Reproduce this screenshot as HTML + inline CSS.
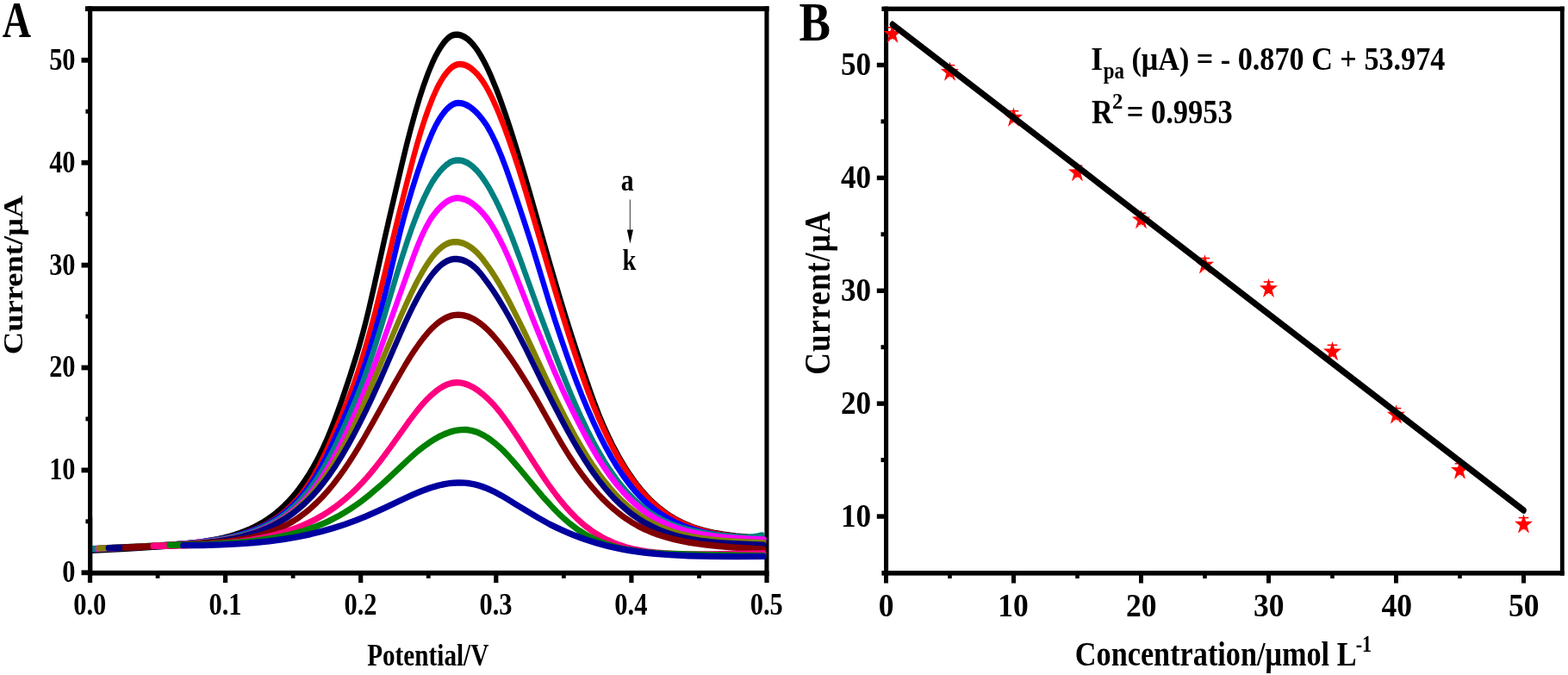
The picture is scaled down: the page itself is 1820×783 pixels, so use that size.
<!DOCTYPE html>
<html><head><meta charset="utf-8"><title>DPV figure</title>
<style>
html,body{margin:0;padding:0;background:#fff;}
body{width:1820px;height:783px;overflow:hidden;}
svg{display:block;filter:blur(0.45px);}
text{font-family:"Liberation Serif","Times New Roman",serif;font-weight:bold;fill:#000;}
</style></head><body>
<svg width="1820" height="783" viewBox="0 0 1820 783">
<rect x="0" y="0" width="1820" height="783" fill="#fff"/>
<rect x="98.90" y="7.20" width="793.60" height="5.90" fill="#000"/>
<rect x="102.00" y="7.20" width="5.20" height="660.40" fill="#000"/>
<rect x="887.40" y="7.20" width="5.10" height="660.40" fill="#000"/>
<rect x="102.00" y="661.80" width="790.50" height="5.80" fill="#000"/>
<rect x="94.50" y="661.40" width="8.00" height="5.80" fill="#000"/>
<rect x="99.40" y="602.35" width="3.10" height="5.00" fill="#000"/>
<rect x="94.50" y="542.50" width="8.00" height="5.80" fill="#000"/>
<rect x="99.40" y="483.45" width="3.10" height="5.00" fill="#000"/>
<rect x="94.50" y="423.60" width="8.00" height="5.80" fill="#000"/>
<rect x="99.40" y="364.55" width="3.10" height="5.00" fill="#000"/>
<rect x="94.50" y="304.70" width="8.00" height="5.80" fill="#000"/>
<rect x="99.40" y="245.65" width="3.10" height="5.00" fill="#000"/>
<rect x="94.50" y="185.80" width="8.00" height="5.80" fill="#000"/>
<rect x="99.40" y="126.75" width="3.10" height="5.00" fill="#000"/>
<rect x="94.50" y="66.90" width="8.00" height="5.80" fill="#000"/>
<rect x="101.90" y="667.00" width="5.20" height="9.00" fill="#000"/>
<rect x="180.65" y="667.00" width="4.80" height="3.80" fill="#000"/>
<rect x="259.00" y="667.00" width="5.20" height="9.00" fill="#000"/>
<rect x="337.75" y="667.00" width="4.80" height="3.80" fill="#000"/>
<rect x="416.10" y="667.00" width="5.20" height="9.00" fill="#000"/>
<rect x="494.85" y="667.00" width="4.80" height="3.80" fill="#000"/>
<rect x="573.20" y="667.00" width="5.20" height="9.00" fill="#000"/>
<rect x="651.95" y="667.00" width="4.80" height="3.80" fill="#000"/>
<rect x="730.30" y="667.00" width="5.20" height="9.00" fill="#000"/>
<rect x="809.05" y="667.00" width="4.80" height="3.80" fill="#000"/>
<rect x="887.40" y="667.00" width="5.20" height="9.00" fill="#000"/>
<text transform="translate(72.32 675.29) scale(0.8370 1)" font-size="36.30">0</text>
<text transform="translate(57.13 556.39) scale(0.8370 1)" font-size="36.30">10</text>
<text transform="translate(57.13 437.49) scale(0.8370 1)" font-size="36.30">20</text>
<text transform="translate(57.13 318.59) scale(0.8370 1)" font-size="36.30">30</text>
<text transform="translate(57.13 199.69) scale(0.8370 1)" font-size="36.30">40</text>
<text transform="translate(57.13 80.79) scale(0.8370 1)" font-size="36.30">50</text>
<text transform="translate(85.24 713.16) scale(0.8400 1)" font-size="36.30">0.0</text>
<text transform="translate(242.49 713.16) scale(0.8400 1)" font-size="36.30">0.1</text>
<text transform="translate(399.44 713.16) scale(0.8400 1)" font-size="36.30">0.2</text>
<text transform="translate(556.47 713.16) scale(0.8400 1)" font-size="36.30">0.3</text>
<text transform="translate(713.34 713.16) scale(0.8400 1)" font-size="36.30">0.4</text>
<text transform="translate(870.67 713.16) scale(0.8400 1)" font-size="36.30">0.5</text>
<text transform="translate(2.64 42.60) scale(0.7762 1)" font-size="59.39">A</text>
<text transform="translate(426.16 772.10) scale(0.8005 1)" font-size="36.50">Potential/V</text>
<text transform="translate(25.97 411.13) rotate(-90) scale(1.1673 1)" font-size="31.31">Current/μA</text>
<text transform="translate(720.71 220.94) scale(0.8288 1)" font-size="35.80">a</text>
<text transform="translate(722.39 313.10) scale(0.8211 1)" font-size="34.70">k</text>
<line x1="731.4" y1="231.5" x2="731.4" y2="268" stroke="#6a6a6a" stroke-width="1.5"/>
<polygon points="727.8,266.6 734.9,266.6 731.4,282.4" fill="#000"/>
<rect x="1023.40" y="7.60" width="792.30" height="5.40" fill="#000"/>
<rect x="1026.00" y="7.60" width="5.10" height="660.00" fill="#000"/>
<rect x="1810.90" y="7.60" width="4.80" height="660.00" fill="#000"/>
<rect x="1023.40" y="662.00" width="792.30" height="5.60" fill="#000"/>
<rect x="1017.80" y="596.35" width="8.70" height="5.40" fill="#000"/>
<rect x="1022.50" y="531.10" width="4.00" height="5.00" fill="#000"/>
<rect x="1017.80" y="465.45" width="8.70" height="5.40" fill="#000"/>
<rect x="1022.50" y="400.20" width="4.00" height="5.00" fill="#000"/>
<rect x="1017.80" y="334.55" width="8.70" height="5.40" fill="#000"/>
<rect x="1022.50" y="269.30" width="4.00" height="5.00" fill="#000"/>
<rect x="1017.80" y="203.65" width="8.70" height="5.40" fill="#000"/>
<rect x="1022.50" y="138.40" width="4.00" height="5.00" fill="#000"/>
<rect x="1017.80" y="72.75" width="8.70" height="5.40" fill="#000"/>
<rect x="1026.00" y="667.00" width="5.00" height="9.50" fill="#000"/>
<rect x="1100.20" y="667.00" width="4.60" height="4.00" fill="#000"/>
<rect x="1174.00" y="667.00" width="5.00" height="9.50" fill="#000"/>
<rect x="1248.20" y="667.00" width="4.60" height="4.00" fill="#000"/>
<rect x="1322.00" y="667.00" width="5.00" height="9.50" fill="#000"/>
<rect x="1396.20" y="667.00" width="4.60" height="4.00" fill="#000"/>
<rect x="1470.00" y="667.00" width="5.00" height="9.50" fill="#000"/>
<rect x="1544.20" y="667.00" width="4.60" height="4.00" fill="#000"/>
<rect x="1618.00" y="667.00" width="5.00" height="9.50" fill="#000"/>
<rect x="1692.20" y="667.00" width="4.60" height="4.00" fill="#000"/>
<rect x="1766.00" y="667.00" width="5.00" height="9.50" fill="#000"/>
<text transform="translate(975.89 610.66) scale(0.9050 1)" font-size="38.80">10</text>
<text transform="translate(975.89 479.76) scale(0.9050 1)" font-size="38.80">20</text>
<text transform="translate(975.89 348.86) scale(0.9050 1)" font-size="38.80">30</text>
<text transform="translate(975.89 217.96) scale(0.9050 1)" font-size="38.80">40</text>
<text transform="translate(975.89 87.06) scale(0.9050 1)" font-size="38.80">50</text>
<text transform="translate(1019.82 715.41) scale(0.9150 1)" font-size="38.80">0</text>
<text transform="translate(1158.24 715.41) scale(0.9150 1)" font-size="38.80">10</text>
<text transform="translate(1306.95 715.41) scale(0.9150 1)" font-size="38.80">20</text>
<text transform="translate(1455.04 715.41) scale(0.9150 1)" font-size="38.80">30</text>
<text transform="translate(1603.39 715.41) scale(0.9150 1)" font-size="38.80">40</text>
<text transform="translate(1750.95 715.41) scale(0.9150 1)" font-size="38.80">50</text>
<text transform="translate(927.58 46.99) scale(0.8745 1)" font-size="62.58">B</text>
<text transform="translate(1247.79 771.60) scale(0.8718 1)" font-size="39.30">Concentration/μmol L</text>
<text transform="translate(1573.63 756.10) scale(0.7990 1)" font-size="27.70">-1</text>
<text transform="translate(962.89 434.67) rotate(-90) scale(0.8550 1)" font-size="41.50" letter-spacing="1.318">Current/μA</text>
<text transform="translate(1266.25 81.30) scale(0.9158 1)" font-size="38.90">I</text>
<text transform="translate(1280.67 90.75) scale(0.8424 1)" font-size="27.20">pa</text>
<text transform="translate(1313.46 81.40) scale(0.8784 1)" font-size="38.90">(μA) = - 0.870 C + 53.974</text>
<text transform="translate(1266.89 142.60) scale(0.8683 1)" font-size="39.30">R</text>
<text transform="translate(1291.11 126.30) scale(0.9451 1)" font-size="26.20">2</text>
<text transform="translate(1307.78 142.50) scale(0.8769 1)" font-size="39.30">= 0.9953</text>
<g transform="scale(0.8500 1)" fill="none" stroke-width="7.4" stroke-linecap="round" stroke-linejoin="round">
<polyline points="124.71,638.36 171.85,636.29 204.29,634.65 230.92,633.00 252.96,631.24 272.86,629.15 281.74,628.01 290.27,626.75 298.50,625.35 306.11,623.87 313.42,622.27 320.41,620.53 327.40,618.56 334.39,616.34 341.07,613.95 347.45,611.39 353.52,608.67 359.96,605.49 365.80,602.29 371.65,598.76 377.19,595.08 382.43,591.28 387.68,587.14 392.94,582.63 397.89,578.03 402.85,573.06 407.82,567.69 412.48,562.28 417.45,556.09 422.12,549.86 426.77,543.21 431.11,536.60 435.42,529.59 439.71,522.16 443.97,514.31 447.90,506.62 452.11,497.90 456.32,488.73 465.73,466.76 476.42,439.99 486.09,414.10 490.87,400.38 495.22,387.14 499.12,374.48 503.17,360.49 509.89,335.70 524.57,279.44 531.07,255.06 548.58,191.44 555.16,168.34 561.26,148.22 567.14,130.11 572.78,114.04 578.47,99.18 584.54,85.00 590.31,73.13 594.79,65.04 598.09,59.91 601.32,55.33 604.18,51.71 607.01,48.56 609.81,45.91 612.29,43.96 615.06,42.23 617.52,41.13 620.28,40.36 622.73,40.11 626.10,40.30 629.46,40.98 632.81,42.16 636.16,43.83 639.50,45.98 642.82,48.61 646.14,51.71 649.43,55.28 652.41,58.92 655.66,63.35 659.56,69.15 663.49,75.54 667.11,81.93 670.73,88.80 677.99,103.83 684.36,118.30 691.07,134.65 698.13,152.88 705.86,173.80 714.31,197.44 722.79,221.87 750.67,305.44 764.76,346.33 772.03,366.54 779.62,386.97 788.37,409.84 797.20,432.29 805.45,452.65 812.09,468.37 817.93,481.28 823.90,493.47 830.60,506.05 837.67,518.27 844.79,529.57 852.23,540.39 860.61,551.43 864.96,556.70 869.30,561.67 873.64,566.35 878.29,571.05 882.63,575.16 887.27,579.28 891.91,583.12 896.54,586.69 901.48,590.21 906.42,593.46 911.35,596.45 916.58,599.36 921.82,602.01 927.05,604.42 932.27,606.61 938.08,608.82 943.54,610.69 949.31,612.46 955.38,614.12 961.45,615.58 967.83,616.92 974.53,618.15 988.53,620.21 1004.38,621.90 1022.09,623.20 1042.86,624.22" stroke="#000000"/>
<polyline points="124.71,637.08 177.36,634.88 209.50,633.38 235.51,631.93 257.25,630.40 277.14,628.58 294.69,626.47 310.15,624.05 317.58,622.64 324.41,621.18 331.56,619.45 338.41,617.58 344.96,615.57 351.53,613.31 357.79,610.91 364.05,608.22 368.94,605.85 374.12,603.10 379.59,599.90 384.74,596.59 389.89,592.96 394.71,589.24 399.52,585.21 404.30,580.84 408.75,576.42 413.18,571.66 417.28,566.90 421.35,561.82 425.38,556.40 429.09,551.05 432.79,545.38 436.75,538.92 444.73,524.80 450.28,514.27 456.66,501.72 466.74,481.37 473.29,467.81 481.20,450.30 488.44,432.45 494.16,417.06 500.38,399.19 506.50,380.56 512.83,360.28 523.18,325.13 537.67,273.22 544.52,249.26 555.69,211.57 564.28,183.48 569.64,167.00 574.77,152.27 579.97,138.48 584.91,126.48 590.81,113.60 596.44,102.89 598.64,99.15 601.27,95.17 604.19,91.08 606.76,87.81 609.63,84.54 612.15,82.01 614.97,79.59 617.46,77.82 620.25,76.28 622.72,75.29 625.18,74.68 627.63,74.45 630.70,74.60 634.08,75.22 637.48,76.33 640.88,77.91 644.30,79.97 647.72,82.49 651.15,85.48 654.57,88.92 657.99,92.80 661.39,97.12 664.14,100.97 667.44,106.04 670.73,111.52 674.32,117.93 677.92,124.78 681.82,132.67 688.16,146.39 694.87,161.92 701.62,178.50 708.34,195.96 718.31,223.48 755.83,330.97 768.70,367.11 776.05,387.03 783.08,405.48 790.38,423.98 797.31,440.91 804.23,457.01 810.92,471.59 817.68,485.35 824.51,498.28 831.67,510.91 838.84,522.63 846.31,533.90 853.77,544.24 862.14,554.77 866.48,559.80 870.80,564.55 875.12,569.02 879.75,573.51 884.06,577.44 888.68,581.38 893.30,585.05 897.92,588.47 902.53,591.64 907.44,594.77 912.36,597.65 917.58,600.46 922.80,603.03 928.02,605.37 933.23,607.51 939.00,609.66 944.45,611.49 950.21,613.23 955.97,614.79 962.04,616.25 968.42,617.60 975.11,618.84 989.11,620.95 1004.65,622.69 1022.35,624.12 1042.82,625.27" stroke="#FF0000"/>
<polyline points="124.71,637.11 173.38,635.14 205.82,633.66 232.45,632.20 254.49,630.68 274.70,628.87 292.51,626.79 308.22,624.41 315.63,623.07 322.73,621.62 329.84,619.98 336.96,618.13 343.46,616.23 349.97,614.12 356.17,611.87 362.37,609.37 367.60,607.04 373.38,604.17 378.84,601.18 384.00,598.09 389.14,594.72 394.27,591.05 399.08,587.30 403.87,583.25 408.64,578.87 413.08,574.45 417.50,569.71 421.60,564.98 425.67,559.94 429.70,554.58 433.72,548.89 437.72,542.85 445.75,529.67 451.29,519.86 457.30,508.75 476.14,472.50 484.60,455.20 488.39,446.87 492.07,438.30 498.25,422.94 504.89,405.19 511.37,386.71 517.99,366.67 524.15,347.01 530.14,326.97 543.12,280.67 547.00,267.29 551.65,252.20 556.80,236.53 563.37,217.85 570.67,198.52 578.19,179.95 584.67,165.30 590.19,154.10 595.41,144.81 600.28,137.71 602.87,134.37 605.44,131.36 608.31,128.35 610.85,126.04 613.38,124.07 615.89,122.44 618.39,121.16 620.87,120.23 623.34,119.66 625.79,119.44 628.87,119.59 632.28,120.18 635.73,121.23 639.22,122.73 642.43,124.48 645.98,126.82 649.58,129.60 653.21,132.80 656.20,135.74 659.54,139.32 663.57,144.05 665.11,146.16 668.43,151.07 672.02,156.85 675.28,162.52 678.81,169.09 684.61,180.88 690.62,194.29 697.51,210.76 706.96,234.29 717.32,260.80 726.18,284.22 733.35,303.92 748.87,347.51 758.21,372.51 765.62,391.38 773.36,410.44 780.47,427.34 786.99,442.18 794.78,459.03 802.92,475.57 811.03,491.06 819.11,505.47 826.86,518.30 834.61,530.13 842.35,540.99 850.40,551.27 858.76,560.90 863.10,565.50 867.43,569.83 871.76,573.91 876.40,578.01 880.72,581.60 885.35,585.19 889.98,588.54 894.61,591.65 899.54,594.73 904.47,597.58 909.40,600.19 914.63,602.75 919.86,605.08 925.39,607.32 930.86,609.36 936.31,611.19 942.06,612.94 947.82,614.50 959.95,617.28 973.31,619.65 987.61,621.57 1003.76,623.17 1021.76,624.45 1042.83,625.49" stroke="#0000FF"/>
<polyline points="124.71,636.78 208.69,633.27 234.04,631.97 255.11,630.63 274.35,629.08 291.48,627.29 306.52,625.26 320.35,622.88 327.12,621.49 333.89,619.92 340.36,618.24 346.53,616.44 352.39,614.55 358.25,612.44 363.81,610.24 369.36,607.82 374.83,605.15 380.00,602.39 385.16,599.37 390.01,596.28 394.85,592.94 399.69,589.31 404.22,585.65 408.75,581.72 413.56,577.21 418.07,572.67 422.86,567.48 427.35,562.27 431.82,556.73 436.29,550.83 440.77,544.56 445.24,537.93 449.73,530.91 454.25,523.50 463.70,506.94 474.70,486.22 485.44,464.77 491.94,450.92 497.97,437.22 504.16,422.28 510.51,406.08 520.48,379.03 543.60,313.25 550.57,294.36 556.73,278.41 562.39,264.61 568.14,251.54 573.65,239.96 579.21,229.26 584.82,219.54 590.46,210.91 596.51,203.44 599.48,200.17 602.41,197.22 605.31,194.59 608.17,192.30 611.02,190.35 613.84,188.74 616.64,187.48 619.42,186.57 622.19,186.02 624.64,185.83 627.69,185.94 630.74,186.38 633.79,187.17 637.14,188.41 640.18,189.89 643.52,191.89 646.55,194.05 649.87,196.79 653.19,199.90 656.50,203.38 659.80,207.22 663.10,211.40 666.44,215.92 669.77,220.76 676.75,231.86 682.19,241.41 687.62,251.64 693.33,263.09 699.31,275.79 710.02,299.99 735.88,360.88 756.78,408.14 765.47,427.40 772.57,442.67 779.39,456.76 785.92,469.67 794.01,484.87 802.07,499.15 809.77,511.98 817.45,523.91 825.10,534.94 833.03,545.47 840.65,554.70 848.57,563.41 857.09,571.82 865.60,579.28 870.17,582.91 874.73,586.30 879.29,589.46 883.86,592.39 888.43,595.12 893.30,597.81 898.17,600.28 903.35,602.70 908.53,604.90 913.71,606.91 919.19,608.83 924.97,610.66 931.36,612.47 938.06,614.13 945.07,615.65 952.09,616.97 959.71,618.21 967.64,619.31 976.19,620.31 985.04,621.18 1004.27,622.60 1014.65,623.17 1019.53,623.27 1024.73,623.11 1029.92,622.69 1035.11,622.01 1040.60,621.01" stroke="#008080"/>
<polyline points="133.17,636.38 214.75,633.10 239.32,631.89 259.64,630.66 278.14,629.24 294.50,627.61 309.27,625.72 322.51,623.55 329.12,622.26 335.72,620.80 341.71,619.32 347.69,617.66 353.36,615.90 359.02,613.96 364.36,611.93 369.40,609.82 375.36,607.08 380.20,604.67 385.34,601.89 390.18,599.04 395.02,595.95 399.86,592.61 404.40,589.24 408.94,585.61 413.48,581.73 418.02,577.57 422.56,573.12 426.80,568.70 431.34,563.67 435.58,558.68 439.82,553.41 444.07,547.85 452.25,536.27 460.76,523.06 469.33,508.62 478.31,492.37 485.23,479.21 491.89,466.01 498.21,452.91 504.47,439.35 511.59,423.26 519.60,404.60 555.87,318.15 565.07,296.62 569.47,286.90 573.64,278.30 577.60,270.77 581.64,263.77 587.23,255.17 590.85,250.70 593.85,247.34 597.16,243.93 600.13,241.16 603.08,238.67 606.00,236.48 608.58,234.79 611.45,233.17 613.98,232.00 616.80,230.97 619.28,230.32 621.74,229.92 624.18,229.78 627.22,229.90 630.58,230.36 633.66,231.08 637.07,232.21 640.19,233.53 643.64,235.31 647.11,237.43 650.60,239.87 654.10,242.63 657.94,246.01 661.79,249.75 665.64,253.84 668.09,256.76 671.37,261.01 677.28,269.42 681.96,276.74 686.58,284.53 691.13,292.77 695.91,301.97 704.77,320.31 728.91,372.66 750.77,418.10 758.24,433.08 765.18,446.49 771.93,458.94 779.39,472.13 789.94,490.11 799.32,505.39 807.97,518.68 816.25,530.58 824.82,541.94 833.36,552.33 841.88,561.75 850.39,570.25 858.88,577.85 867.37,584.61 876.15,590.79 884.93,596.19 894.01,601.04 898.85,603.34 903.69,605.46 914.23,609.51 924.40,612.77 934.89,615.53 946.32,617.95 958.67,620.01 971.95,621.72 986.46,623.12 1002.49,624.27 1020.96,625.22 1042.77,626.03" stroke="#FF00FF"/>
<polyline points="135.02,636.13 212.80,633.32 236.71,632.25 256.69,631.14 275.15,629.84 291.49,628.35 305.65,626.68 318.85,624.70 331.72,622.26 343.66,619.42 349.31,617.83 354.95,616.08 360.28,614.25 365.30,612.36 370.90,610.03 376.52,607.46 381.36,605.10 386.20,602.54 391.04,599.78 395.59,596.98 400.14,593.98 404.69,590.77 413.20,584.15 421.74,576.68 429.99,568.60 438.28,559.62 446.27,550.09 454.27,539.66 462.25,528.32 470.20,516.09 476.29,506.09 482.36,495.60 488.70,484.08 495.02,472.09 507.06,448.18 538.12,384.88 546.47,368.35 553.57,354.78 560.31,342.41 566.41,331.81 572.19,322.43 577.94,313.79 583.38,306.39 586.65,302.27 589.61,298.80 594.96,293.26 597.64,290.84 600.33,288.67 603.02,286.75 605.72,285.08 608.42,283.67 610.83,282.63 613.54,281.72 616.26,281.07 618.98,280.69 621.40,280.58 624.42,280.69 627.73,281.11 631.02,281.82 634.30,282.84 637.27,284.01 640.52,285.59 643.74,287.45 646.94,289.59 649.83,291.79 652.69,294.20 655.53,296.84 658.63,299.99 667.23,309.82 673.82,318.12 680.44,327.24 687.41,337.57 694.75,349.09 703.08,362.81 711.17,376.63 719.26,390.86 747.22,441.83 759.56,463.69 767.00,476.39 774.12,488.17 780.91,499.03 787.70,509.46 795.42,520.73 802.82,530.95 810.54,540.93 817.95,549.88 825.34,558.19 833.04,566.18 840.72,573.50 848.38,580.17 856.65,586.67 865.20,592.68 874.03,598.18 882.86,602.99 891.97,607.30 897.61,609.71 902.61,611.68 912.65,615.12 923.02,618.05 933.73,620.51 945.07,622.60 957.34,624.38 970.54,625.86 984.97,627.09 1000.94,628.11 1019.70,628.99 1042.71,629.80" stroke="#808000"/>
<polyline points="147.97,635.61 183.18,634.73 211.22,633.84 234.79,632.87 255.38,631.73 273.87,630.39 290.58,628.80 305.44,626.97 319.33,624.79 332.60,622.19 344.94,619.18 356.36,615.78 361.91,613.87 367.15,611.91 372.67,609.64 378.82,606.90 388.65,602.01 393.72,599.20 398.49,596.35 403.26,593.30 408.03,590.03 416.68,583.53 425.34,576.22 433.71,568.34 442.09,559.61 450.49,549.98 458.62,539.83 466.76,528.80 475.24,516.44 482.84,504.65 490.80,491.65 499.45,476.90 507.80,462.03 520.30,438.54 547.14,386.04 553.39,374.28 559.35,363.49 564.72,354.22 570.09,345.45 575.16,337.69 580.23,330.52 586.17,322.90 591.48,316.90 596.79,311.75 601.82,307.72 604.49,305.94 606.86,304.56 609.54,303.24 611.91,302.27 614.59,301.43 616.97,300.90 619.65,300.54 622.04,300.44 625.01,300.56 628.25,300.97 631.47,301.65 634.65,302.62 637.51,303.75 640.64,305.25 643.72,307.02 646.78,309.06 649.52,311.14 652.24,313.44 657.59,318.64 667.81,330.31 673.50,337.24 680.15,345.98 687.49,356.29 695.23,367.76 703.34,380.36 716.07,401.22 741.80,445.57 755.52,468.44 765.77,485.00 774.62,498.95 782.17,510.45 789.38,520.98 796.87,531.39 804.05,540.80 811.23,549.63 818.41,557.88 825.59,565.54 833.06,572.90 840.23,579.39 847.70,585.57 856.06,591.81 864.71,597.56 873.37,602.64 882.31,607.23 891.73,611.46 901.44,615.17 911.76,618.48 922.40,621.29 933.36,623.65 944.93,625.65 957.40,627.34 970.80,628.73 985.42,629.87 1001.83,630.81 1020.63,631.56 1042.71,632.18" stroke="#000080"/>
<polyline points="170.18,635.20 243.20,632.30 278.41,630.55 294.12,629.49 307.79,628.33 319.99,627.03 331.30,625.53 342.90,623.60 353.62,621.39 363.75,618.84 373.29,615.96 382.54,612.63 391.21,608.99 400.23,604.62 408.69,599.92 416.56,594.98 424.44,589.44 432.32,583.27 439.92,576.72 447.51,569.55 455.10,561.76 462.69,553.35 470.28,544.33 476.71,536.24 483.12,527.76 489.83,518.52 496.83,508.50 509.98,488.90 539.85,443.16 553.26,423.52 559.96,414.29 566.07,406.33 571.88,399.22 577.69,392.65 584.34,385.83 590.40,380.36 596.47,375.66 602.27,371.95 605.16,370.39 608.06,369.03 610.97,367.87 613.87,366.92 616.78,366.18 619.68,365.65 622.59,365.33 625.50,365.22 628.70,365.34 631.90,365.67 635.09,366.24 638.58,367.10 641.77,368.13 645.26,369.49 648.45,370.97 651.94,372.82 655.43,374.91 658.93,377.24 662.43,379.81 665.94,382.59 673.61,389.37 681.02,396.75 688.76,405.24 696.84,414.81 705.55,425.81 714.87,438.20 723.83,450.64 733.22,464.18 758.65,502.50 767.45,515.37 777.81,529.57 783.20,536.53 788.36,542.89 795.57,551.32 802.52,558.96 809.79,566.44 817.07,573.40 824.07,579.61 831.37,585.59 838.66,591.07 846.25,596.27 854.42,601.32 862.88,605.98 871.10,609.97 879.96,613.73 889.08,617.11 898.78,620.20 909.04,622.99 919.57,625.39 930.10,627.39 941.75,629.24 953.97,630.82 967.35,632.24 981.90,633.50 998.48,634.69 1042.71,637.18" stroke="#800000"/>
<polyline points="209.04,633.25 229.89,633.18 249.35,632.90 267.42,632.39 284.10,631.67 299.94,630.71 314.67,629.53 328.57,628.12 342.24,626.39 355.09,624.42 367.39,622.16 379.16,619.61 390.38,616.77 401.34,613.58 412.05,610.00 421.32,606.48 431.07,602.29 439.70,598.15 448.04,593.71 456.10,589.01 464.15,583.86 471.90,578.45 479.64,572.60 487.35,566.28 494.75,559.74 500.76,554.10 507.02,547.89 513.53,541.11 520.02,534.03 531.89,520.39 557.16,490.31 568.17,477.87 577.05,468.67 581.69,464.44 586.04,460.73 591.24,456.67 596.41,453.09 601.27,450.19 605.82,447.91 610.63,446.02 615.13,444.76 619.61,444.00 624.07,443.77 626.85,443.88 629.64,444.17 632.43,444.63 635.51,445.34 638.32,446.17 641.42,447.27 647.36,449.95 653.36,453.33 659.71,457.59 666.44,462.78 673.26,468.65 678.36,473.66 683.72,479.32 689.32,485.61 695.17,492.55 707.04,507.48 732.04,540.55 743.39,555.11 749.61,562.73 755.30,569.43 761.00,575.85 766.71,581.96 773.53,588.81 780.37,595.17 787.23,601.05 794.10,606.43 800.49,610.94 807.51,615.39 814.53,619.38 821.85,623.07 829.73,626.54 838.11,629.73 846.45,632.43 855.07,634.76 864.24,636.78 873.69,638.44 883.98,639.84 894.82,640.93 905.94,641.73 918.17,642.33 931.79,642.72 947.08,642.92 964.59,642.95 985.72,642.80 1042.71,641.94" stroke="#FF0080"/>
<polyline points="231.25,632.39 268.05,631.83 284.55,631.36 299.70,630.76 314.04,630.01 327.30,629.13 339.75,628.11 351.98,626.88 363.41,625.52 374.58,623.94 385.22,622.18 395.31,620.25 405.15,618.10 414.72,615.73 424.01,613.12 433.04,610.29 440.14,607.83 448.21,604.73 456.01,601.45 463.52,598.01 471.03,594.29 478.52,590.28 485.73,586.14 493.19,581.57 499.57,577.43 505.94,573.10 519.42,563.31 531.78,553.74 558.22,532.59 570.02,523.63 579.21,517.56 588.21,512.23 594.70,508.83 600.91,505.96 606.82,503.62 612.69,501.68 618.53,500.18 624.05,499.18 629.52,498.61 634.95,498.48 639.83,498.79 644.74,499.57 649.67,500.79 654.90,502.57 660.15,504.81 665.41,507.51 670.97,510.80 676.54,514.52 681.84,518.42 687.13,522.63 696.02,530.56 707.52,541.77 732.07,566.92 743.25,578.02 754.96,588.91 760.55,593.77 766.14,598.38 772.54,603.32 778.94,607.91 785.14,611.96 791.65,615.83 798.18,619.34 804.73,622.51 811.56,625.45 818.67,628.16 825.97,630.60 833.28,632.71 841.13,634.64 849.24,636.31 857.90,637.78 866.83,639.01 876.57,640.07 887.12,640.96 897.41,641.63 909.04,642.20 936.64,643.07 973.71,643.73 1042.71,644.59" stroke="#008000"/>
<polyline points="249.75,632.66 276.46,632.46 301.58,631.87 324.85,630.89 346.79,629.51 367.41,627.72 386.98,625.50 405.49,622.87 423.47,619.74 439.33,616.45 454.93,612.69 470.27,608.46 485.60,603.69 498.82,599.16 512.84,593.99 525.79,588.93 552.76,578.13 564.66,573.56 576.03,569.53 586.08,566.38 591.89,564.79 597.71,563.39 603.26,562.25 608.55,561.36 613.84,560.68 619.13,560.21 624.42,559.95 629.70,559.92 634.18,560.09 638.89,560.49 643.33,561.07 648.00,561.88 652.64,562.90 657.26,564.11 662.12,565.59 666.95,567.27 675.54,570.68 684.57,574.80 692.06,578.53 704.25,584.99 734.67,600.53 750.32,607.97 759.34,611.72 768.32,615.25 776.99,618.44 785.60,621.40 794.18,624.12 802.98,626.70 813.73,629.60 822.19,631.66 830.92,633.58 840.17,635.38 849.69,637.01 859.47,638.48 869.52,639.78 880.10,640.95 891.20,641.98 902.57,642.86 914.73,643.62 940.91,644.75 970.52,645.42 1004.10,645.63 1042.71,645.38" stroke="#0000A0"/>
</g>
<rect x="102.00" y="600.00" width="5.20" height="67.60" fill="#000"/>
<line x1="1030.10" y1="31.85" x2="1041.70" y2="31.85" stroke="#FF0000" stroke-width="1.6"/>
<polygon points="1035.90,27.55 1033.36,35.97 1025.37,36.05 1031.79,41.34 1029.39,49.80 1035.90,44.65 1042.41,49.80 1040.01,41.34 1046.43,36.05 1038.44,35.97" fill="#FF0000"/>
<line x1="1032.70" y1="46.45" x2="1039.10" y2="46.45" stroke="#FFD8D8" stroke-width="1.3"/>
<line x1="1096.70" y1="75.70" x2="1108.30" y2="75.70" stroke="#FF0000" stroke-width="1.6"/>
<polygon points="1102.50,71.40 1099.96,79.82 1091.97,79.90 1098.39,85.19 1095.99,93.65 1102.50,88.50 1109.01,93.65 1106.61,85.19 1113.03,79.90 1105.04,79.82" fill="#FF0000"/>
<line x1="1099.30" y1="90.30" x2="1105.70" y2="90.30" stroke="#FFD8D8" stroke-width="1.3"/>
<line x1="1170.70" y1="128.72" x2="1182.30" y2="128.72" stroke="#FF0000" stroke-width="1.6"/>
<polygon points="1176.50,124.42 1173.96,132.84 1165.97,132.92 1172.39,138.20 1169.99,146.67 1176.50,141.52 1183.01,146.67 1180.61,138.20 1187.03,132.92 1179.04,132.84" fill="#FF0000"/>
<line x1="1173.30" y1="143.32" x2="1179.70" y2="143.32" stroke="#FFD8D8" stroke-width="1.3"/>
<line x1="1244.70" y1="192.21" x2="1256.30" y2="192.21" stroke="#FF0000" stroke-width="1.6"/>
<polygon points="1250.50,187.91 1247.96,196.32 1239.97,196.40 1246.39,201.69 1243.99,210.16 1250.50,205.01 1257.01,210.16 1254.61,201.69 1261.03,196.40 1253.04,196.32" fill="#FF0000"/>
<line x1="1247.30" y1="206.81" x2="1253.70" y2="206.81" stroke="#FFD8D8" stroke-width="1.3"/>
<line x1="1318.70" y1="247.18" x2="1330.30" y2="247.18" stroke="#FF0000" stroke-width="1.6"/>
<polygon points="1324.50,242.88 1321.96,251.30 1313.97,251.38 1320.39,256.67 1317.99,265.13 1324.50,259.98 1331.01,265.13 1328.61,256.67 1335.03,251.38 1327.04,251.30" fill="#FF0000"/>
<line x1="1321.30" y1="261.78" x2="1327.70" y2="261.78" stroke="#FFD8D8" stroke-width="1.3"/>
<line x1="1392.70" y1="299.54" x2="1404.30" y2="299.54" stroke="#FF0000" stroke-width="1.6"/>
<polygon points="1398.50,295.24 1395.96,303.66 1387.97,303.74 1394.39,309.03 1391.99,317.49 1398.50,312.34 1405.01,317.49 1402.61,309.03 1409.03,303.74 1401.04,303.66" fill="#FF0000"/>
<line x1="1395.30" y1="314.14" x2="1401.70" y2="314.14" stroke="#FFD8D8" stroke-width="1.3"/>
<line x1="1466.70" y1="327.03" x2="1478.30" y2="327.03" stroke="#FF0000" stroke-width="1.6"/>
<polygon points="1472.50,322.73 1469.96,331.15 1461.97,331.23 1468.39,336.52 1465.99,344.98 1472.50,339.83 1479.01,344.98 1476.61,336.52 1483.03,331.23 1475.04,331.15" fill="#FF0000"/>
<line x1="1469.30" y1="341.63" x2="1475.70" y2="341.63" stroke="#FFD8D8" stroke-width="1.3"/>
<line x1="1540.70" y1="400.34" x2="1552.30" y2="400.34" stroke="#FF0000" stroke-width="1.6"/>
<polygon points="1546.50,396.04 1543.96,404.45 1535.97,404.54 1542.39,409.82 1539.99,418.29 1546.50,413.14 1553.01,418.29 1550.61,409.82 1557.03,404.54 1549.04,404.45" fill="#FF0000"/>
<line x1="1543.30" y1="414.94" x2="1549.70" y2="414.94" stroke="#FFD8D8" stroke-width="1.3"/>
<line x1="1614.70" y1="473.64" x2="1626.30" y2="473.64" stroke="#FF0000" stroke-width="1.6"/>
<polygon points="1620.50,469.34 1617.96,477.76 1609.97,477.84 1616.39,483.12 1613.99,491.59 1620.50,486.44 1627.01,491.59 1624.61,483.12 1631.03,477.84 1623.04,477.76" fill="#FF0000"/>
<line x1="1617.30" y1="488.24" x2="1623.70" y2="488.24" stroke="#FFD8D8" stroke-width="1.3"/>
<line x1="1688.70" y1="537.78" x2="1700.30" y2="537.78" stroke="#FF0000" stroke-width="1.6"/>
<polygon points="1694.50,533.48 1691.96,541.90 1683.97,541.98 1690.39,547.26 1687.99,555.73 1694.50,550.58 1701.01,555.73 1698.61,547.26 1705.03,541.98 1697.04,541.90" fill="#FF0000"/>
<line x1="1691.30" y1="552.38" x2="1697.70" y2="552.38" stroke="#FFD8D8" stroke-width="1.3"/>
<line x1="1762.70" y1="600.61" x2="1774.30" y2="600.61" stroke="#FF0000" stroke-width="1.6"/>
<polygon points="1768.50,596.31 1765.96,604.73 1757.97,604.81 1764.39,610.10 1761.99,618.56 1768.50,613.41 1775.01,618.56 1772.61,610.10 1779.03,604.81 1771.04,604.73" fill="#FF0000"/>
<line x1="1765.30" y1="615.21" x2="1771.70" y2="615.21" stroke="#FFD8D8" stroke-width="1.3"/>
<g transform="scale(0.8500 1)"><line x1="1218.71" y1="28.32" x2="2080.59" y2="592.05" stroke="#000" stroke-width="7.6" stroke-linecap="round"/></g>
</svg>
</body></html>
